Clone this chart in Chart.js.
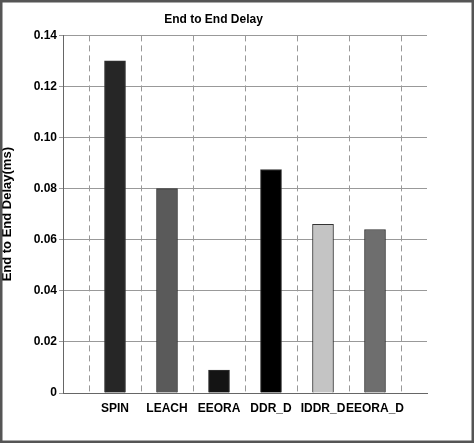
<!DOCTYPE html>
<html>
<head>
<script src="https://cdn.jsdelivr.net/npm/chart.js@4"></script>
<style>body{margin:0;background:#fff}#wrap{width:474px;height:443px}</style>
</head>
<body>
<div id="wrap"><canvas id="c"></canvas></div>
<script>
const categories = ["", "SPIN", "LEACH", "EEORA", "DDR_D", "IDDR_D", "EEORA_D", ""];
const delays = [null, 0.13, 0.08, 0.009, 0.0875, 0.066, 0.064, null];
const barColors = ["#000", "#262626", "#5a5a5a", "#141414", "#000000", "#c4c4c4", "#6e6e6e", "#000"];
const yTicks = [0, 0.02, 0.04, 0.06, 0.08, 0.1, 0.12, 0.14];

// frame around the whole picture
const frame = {
  id: "frame",
  afterDraw(chart) {
    const ctx = chart.ctx;
    ctx.save();
    ctx.strokeStyle = "#555";
    ctx.lineWidth = 5;
    ctx.strokeRect(0, 0, chart.width, chart.height);
    ctx.restore();
  }
};

Chart.defaults.font.family = "Liberation Sans, Arial, sans-serif";
Chart.defaults.color = "#000";

new Chart(document.getElementById("c").getContext("2d"), {
  type: "bar",
  data: {
    labels: categories,
    datasets: [{
      data: delays,
      backgroundColor: barColors,
      borderColor: "#333",
      borderWidth: 1,
      barThickness: 21
    }]
  },
  options: {
    responsive: true,
    maintainAspectRatio: false,
    animation: false,
    layout: { padding: { left: 0, right: 47, top: 0, bottom: 0 } },
    plugins: {
      legend: { display: false },
      tooltip: { enabled: false },
      title: {
        display: true,
        text: "End to End Delay",
        font: { size: 12, weight: "bold" },
        padding: { top: 12, bottom: 9 }
      }
    },
    scales: {
      x: {
        offset: false,
        grid: { color: "#999", borderDash: [6, 4], tickLength: 0 },
        border: { color: "#666", dash: [6, 4] },
        ticks: { font: { size: 12, weight: "bold" }, padding: 8, maxRotation: 0, autoSkip: false },
        afterFit: s => { s.height = 50; }
      },
      y: {
        min: 0,
        max: 0.14,
        afterBuildTicks: s => { s.ticks = yTicks.map(v => ({ value: v })); },
        grid: { color: "#999", tickLength: 4 },
        border: { color: "#666" },
        ticks: { font: { size: 12, weight: "bold" }, padding: 2 },
        title: {
          display: true,
          text: "End to End Delay(ms)",
          font: { size: 13, weight: "bold" },
          padding: { top: 0, bottom: 4 }
        },
        afterFit: s => { s.width = 63; }
      }
    }
  },
  plugins: [frame]
});
</script>
</body>
</html>
